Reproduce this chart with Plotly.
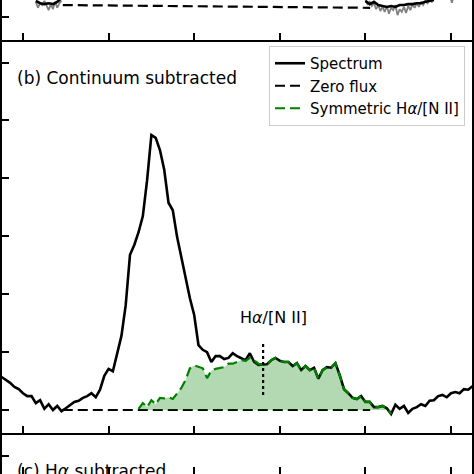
import numpy as np
import plotly.graph_objects as go

# ---- panel (b): continuum-subtracted spectrum (1 A sampling)
wave = np.arange(6515, 6626)
flux = [
    0.57, 0.52, 0.47, 0.40, 0.36, 0.29, 0.24, 0.24, 0.12, 0.17,
    0.02, 0.10, 0.00, 0.07, -0.02, 0.03, 0.09, 0.14, 0.16, 0.21,
    0.24, 0.29, 0.22, 0.35, 0.59, 0.71, 0.67, 0.98, 1.28, 1.81,
    2.68, 2.85, 3.07, 3.35, 3.97, 4.75, 4.70, 4.49, 4.15, 3.58,
    3.45, 2.99, 2.63, 2.33, 1.93, 1.64, 1.12, 1.04, 1.00, 0.83,
    0.93, 0.93, 0.88, 0.90, 0.98, 0.93, 0.90, 0.86, 0.98, 0.83,
    0.78, 0.78, 0.79, 0.86, 0.90, 0.85, 0.83, 0.83, 0.76, 0.81,
    0.69, 0.76, 0.69, 0.73, 0.54, 0.69, 0.74, 0.73, 0.81, 0.60,
    0.36, 0.29, 0.21, 0.19, 0.24, 0.14, 0.14, 0.05, 0.05, 0.07,
    0.03, -0.07, 0.09, 0.02, 0.07, -0.05, 0.02, 0.05, 0.10, 0.07,
    0.16, 0.17, 0.24, 0.26, 0.22, 0.29, 0.31, 0.29, 0.36, 0.35,
    0.41,
]

# symmetric Halpha/[N II] profile (mirror of the red side)
sym_wave = np.arange(6547, 6607)
sym_flux = [
    0.02, 0.12, 0.05, 0.17, 0.10, 0.21, 0.20, 0.22, 0.19, 0.28,
    0.38, 0.52, 0.72, 0.77, 0.74, 0.72, 0.55, 0.68, 0.71, 0.73,
    0.74, 0.80, 0.80, 0.83, 0.86, 0.85, 0.90, 0.86, 0.80,
    0.78, 0.79, 0.86, 0.90, 0.85, 0.83, 0.83, 0.76, 0.81, 0.69,
    0.76, 0.69, 0.73, 0.54, 0.69, 0.74, 0.73, 0.81, 0.60, 0.36,
    0.29, 0.21, 0.19, 0.24, 0.14, 0.14, 0.05, 0.05, 0.07, 0.03,
    -0.07,
]

zero_wave = [6529.3, 6601.1]
zero_flux = [0.0, 0.0]
center_wave = 6576.1
center_flux = [0.26, 1.17]

# ---- panel (a): continuum windows (only the lower edge is in view)
cont_wave = [6529.3, 6601.1]
cont_flux = [1.26, 1.20]
raw_left_wave = np.arange(6523, 6529.5, 0.5)
raw_left_flux = [1.33, 1.20, 1.30, 1.26, 1.35, 1.24, 1.15, 1.28, 1.17, 1.33, 1.20, 1.30, 1.35]
smooth_left_wave = np.arange(6523, 6530)
smooth_left_flux = [1.35, 1.30, 1.28, 1.30, 1.28, 1.33, 1.41]
raw_right_wave = np.arange(6600, 6616.5, 0.5)
raw_right_flux = [
    1.37, 1.28, 1.33, 1.24, 1.30, 1.17, 1.26, 1.13, 1.22, 1.11,
    1.24, 1.07, 1.20, 1.15, 1.26, 1.04, 1.17, 1.11, 1.22, 1.09,
    1.24, 1.15, 1.28, 1.20, 1.30, 1.22, 1.33, 1.26, 1.35, 1.30,
    1.37, 1.33, 1.39,
]
smooth_right_wave = np.arange(6600, 6617)
smooth_right_flux = [
    1.35, 1.28, 1.33, 1.26, 1.24, 1.22, 1.24, 1.22, 1.26, 1.26,
    1.28, 1.28, 1.30, 1.30, 1.33, 1.35, 1.37,
]
raw_edge_wave = [6619.8, 6620.2, 6620.6]
raw_edge_flux = [1.45, 1.31, 1.45]

xticks = [6520, 6540, 6560, 6580, 6600, 6620]
FONT = "DejaVu Sans"
GREEN = "#008000"
LW = 2.6

fig = go.Figure()

# panel (a)
for xs, ys in [(raw_left_wave, raw_left_flux), (raw_right_wave, raw_right_flux), (raw_edge_wave, raw_edge_flux)]:
    fig.add_trace(go.Scatter(x=xs, y=ys, mode="lines", xaxis="x", yaxis="y",
                             line=dict(color="gray", width=1.8), showlegend=False))
for xs, ys in [(smooth_left_wave, smooth_left_flux), (smooth_right_wave, smooth_right_flux)]:
    fig.add_trace(go.Scatter(x=xs, y=ys, mode="lines", xaxis="x", yaxis="y",
                             line=dict(color="black", width=LW), showlegend=False))
fig.add_trace(go.Scatter(x=cont_wave, y=cont_flux, mode="lines", xaxis="x", yaxis="y",
                         line=dict(color="black", width=2.2, dash="10px,5px"), showlegend=False))

# panel (b)
fig.add_trace(go.Scatter(x=wave, y=flux, mode="lines", xaxis="x2", yaxis="y2", name="Spectrum",
                         line=dict(color="black", width=LW)))
fig.add_trace(go.Scatter(x=zero_wave, y=zero_flux, mode="lines", xaxis="x2", yaxis="y2", name="Zero flux",
                         line=dict(color="black", width=2.2, dash="10px,5px")))
fig.add_trace(go.Scatter(x=sym_wave, y=sym_flux, mode="lines", xaxis="x2", yaxis="y2", fill="tozeroy",
                         fillcolor="rgba(0,128,0,0.3)", line=dict(width=0), showlegend=False,
                         hoverinfo="skip"))
fig.add_trace(go.Scatter(x=sym_wave, y=sym_flux, mode="lines", xaxis="x2", yaxis="y2",
                         name="Symmetric H<i>α</i>/[N II]",
                         line=dict(color=GREEN, width=2.2, dash="10px,5px")))
fig.add_trace(go.Scatter(x=[center_wave, center_wave], y=center_flux, mode="lines", xaxis="x2", yaxis="y2",
                         line=dict(color="black", width=2.2, dash="dot"), showlegend=False))

# panel (c) placeholder so its axes are drawn
fig.add_trace(go.Scatter(x=[None], y=[None], xaxis="x3", yaxis="y3", showlegend=False))

H = 474.0
top_a = 1 - 40 / H
top_c = 1 - 433 / H
xrange = [6515.1, 6624.9]

xcommon = dict(range=xrange, showgrid=False, zeroline=False, showticklabels=False, tickvals=xticks,
               ticks="inside", ticklen=7, tickwidth=2, tickcolor="black",
               showline=True, linecolor="black", linewidth=1.6, mirror=False)
ycommon = dict(showgrid=False, zeroline=False, showticklabels=False, ticks="inside", ticklen=7,
               tickwidth=2, tickcolor="black", showline=True, linecolor="black", linewidth=1.6,
               mirror=True)

fig.update_layout(
    width=474, height=474,
    margin=dict(l=2, r=2, t=0, b=0),
    paper_bgcolor="white", plot_bgcolor="white",
    font=dict(family=FONT, color="black"),
    xaxis=dict(domain=[0, 1], anchor="y", **xcommon),
    yaxis=dict(domain=[top_a, 1], anchor="x", range=[0.5, 1.37], tickvals=[1.0], **ycommon),
    xaxis2=dict(domain=[0, 1], anchor="y2", **xcommon),
    yaxis2=dict(domain=[top_c, top_a], anchor="x2", range=[-0.397, 6.39], tickvals=[0, 1, 2, 3, 4, 5, 6],
                **ycommon),
    xaxis3=dict(domain=[0, 1], anchor="y3", **xcommon),
    yaxis3=dict(domain=[0, top_c], anchor="x3", range=[5.682, 6.39], tickvals=[6], **ycommon),
    legend=dict(x=(465 - 2) / 470, xanchor="right", y=1 - 46 / H, yanchor="top",
                bgcolor="white", bordercolor="#cccccc", borderwidth=1,
                font=dict(family=FONT, size=15, color="black"), tracegroupgap=0),
    showlegend=True,
)

fig.add_annotation(text="(b) Continuum subtracted", xref="paper", yref="paper",
                   x=(15 - 2) / 470, y=1 - 78 / H, xanchor="left", yanchor="middle",
                   showarrow=False, font=dict(family=FONT, size=17, color="black"))
fig.add_annotation(text="(c) H<i>α</i> subtracted", xref="paper", yref="paper",
                   x=(15 - 2) / 470, y=1 - 471 / H, xanchor="left", yanchor="middle",
                   showarrow=False, font=dict(family=FONT, size=17, color="black"))
fig.add_annotation(text="H<i>α</i>/[N II]", xref="x2", yref="y2", x=6578.6, y=1.59,
                   xanchor="center", yanchor="middle", showarrow=False,
                   font=dict(family=FONT, size=16, color="black"))

# drop the browser's default 8px body margin so the figure fills the window
fig.write_html("out.html", config={"displayModeBar": False},
               post_script="document.body.style.margin='0';")
